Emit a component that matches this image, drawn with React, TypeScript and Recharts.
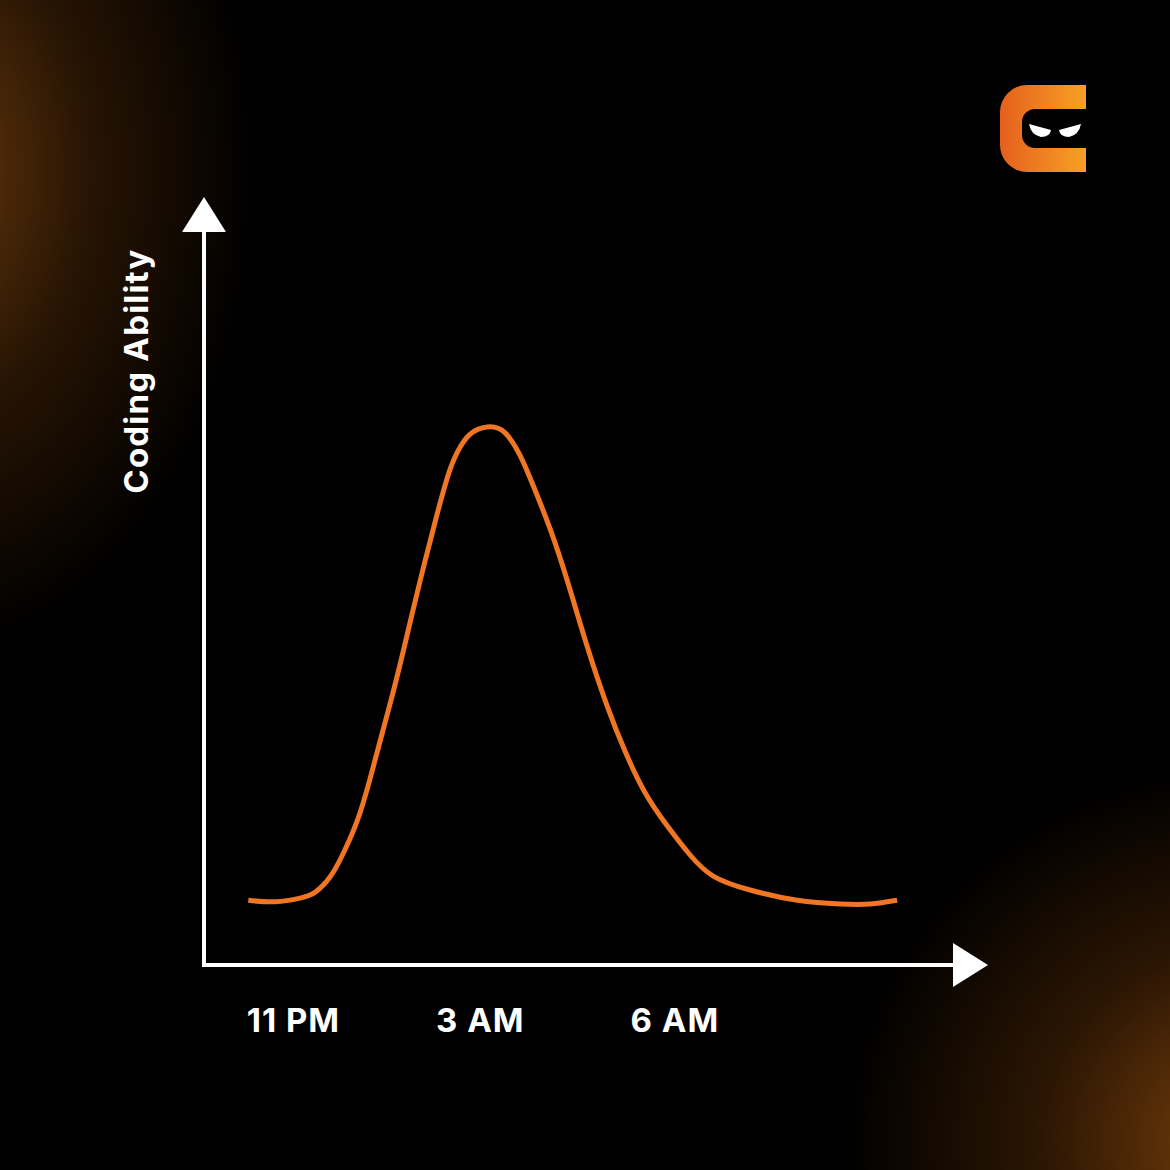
import React from "react";
import { LineChart, Line, XAxis, YAxis } from "recharts";

// curve (arbitrary time units 0-100, ability 0-100)
const timeSteps = [5.9, 9.5, 12.8, 14.8, 16.8, 18.5, 20.4, 22.1, 23.8, 25.6, 27.3, 29.0, 30.8, 32.4, 33.7, 35.4, 37.7, 40.1, 42.1, 43.4, 46.1, 48.7, 51.1, 53.7, 56.1, 58.7, 61.7, 64.7, 67.8, 72.7, 79.0, 84.7, 88.7, 92.3];
const abilityValues = [8.8, 8.6, 9.1, 9.9, 12.0, 15.1, 19.6, 25.3, 31.8, 38.8, 46.0, 53.2, 60.4, 66.3, 69.7, 72.2, 73.2, 72.4, 69.3, 66.3, 59.3, 51.2, 43.1, 35.2, 29.0, 23.5, 18.9, 15.0, 12.1, 10.2, 8.8, 8.3, 8.3, 8.8];

const tickPositions = [11.9, 36.8, 62.7];
const tickLabels = ["11 PM", "3 AM", "6 AM"];

const chartData = timeSteps.map((t, i) => ({ t, ability: abilityValues[i] }));

const FONT = "Inter, 'Noto Sans', sans-serif";

function TimeTick(props: any) {
  const { x, y, payload } = props;
  const idx = tickPositions.indexOf(payload.value);
  return (
    <text x={x} y={y} dy={59} textAnchor="middle" fill="#ffffff" fontFamily={FONT} fontWeight={700} fontSize={33} letterSpacing={1}>
      {tickLabels[idx]}
    </text>
  );
}

function AbilityLabel(props: any) {
  const { viewBox } = props;
  const cx = viewBox.x + viewBox.width - 68;
  const cy = viewBox.y + 141;
  return (
    <text
      x={cx}
      y={cy}
      transform={`rotate(-90, ${cx}, ${cy})`}
      textAnchor="middle"
      dominantBaseline="central"
      fill="#ffffff"
      fontFamily={FONT}
      fontWeight={700}
      fontSize={33}
      letterSpacing={1.2}
    >
      Coding Ability
    </text>
  );
}

function Logo() {
  return (
    <svg width={88} height={90} style={{ position: "absolute", left: 999, top: 84 }}>
      <defs>
        <linearGradient id="logoGrad" x1="0" y1="0" x2="1" y2="0">
          <stop offset="0%" stopColor="#e5601d" />
          <stop offset="100%" stopColor="#f7a126" />
        </linearGradient>
      </defs>
      <path
        d="M 87,1 H 28 A 27 27 0 0 0 1,28 V 61 A 27 27 0 0 0 28,88 H 87 V 64 H 36 A 13 13 0 0 1 23,51 V 38 A 13 13 0 0 1 36,25 H 87 Z"
        fill="url(#logoGrad)"
      />
      <path d="M 30,40 L 52,46 Q 51,53 42,53 Q 32,51 30,40 Z" fill="#ffffff" />
      <path d="M 82,40 L 60,46 Q 61,53 70,53 Q 80,51 82,40 Z" fill="#ffffff" />
    </svg>
  );
}

export default function App() {
  return (
    <div
      style={{
        position: "absolute",
        left: 0,
        top: 0,
        width: 1170,
        height: 1170,
        overflow: "hidden",
        background:
          "radial-gradient(ellipse 430px 620px at -80px 170px, #6b3a0c 0%, rgba(70,36,6,0.55) 40%, rgba(0,0,0,0) 78%)," +
          "radial-gradient(ellipse 520px 480px at 1250px 1140px, #7a400b 0%, rgba(80,40,6,0.55) 40%, rgba(0,0,0,0) 78%)," +
          "#000000",
      }}
    >
      <Logo />
      <LineChart
        width={1170}
        height={1170}
        data={chartData}
        margin={{ top: 230, right: 215, bottom: 105, left: 104 }}
      >
        <defs>
          <marker id="arrowHead" markerUnits="userSpaceOnUse" markerWidth={36} markerHeight={44} refX={2} refY={22} orient="auto-start-reverse">
            <path d="M 0,0 L 35,22 L 0,44 Z" fill="#ffffff" />
          </marker>
        </defs>
        <XAxis
          type="number"
          dataKey="t"
          domain={[0, 100]}
          ticks={tickPositions}
          height={100}
          tickLine={false}
          axisLine={{ stroke: "#ffffff", strokeWidth: 4, strokeLinecap: "square", markerEnd: "url(#arrowHead)" } as any}
          tick={<TimeTick />}
          interval={0}
        />
        <YAxis
          type="number"
          domain={[0, 100]}
          width={100}
          tick={false}
          tickLine={false}
          axisLine={{ stroke: "#ffffff", strokeWidth: 4, strokeLinecap: "square", markerStart: "url(#arrowHead)" } as any}
          label={<AbilityLabel />}
        />
        <Line
          type="natural"
          dataKey="ability"
          stroke="#f07624"
          strokeWidth={5}
          dot={false}
          activeDot={false}
          isAnimationActive={false}
        />
      </LineChart>
    </div>
  );
}
